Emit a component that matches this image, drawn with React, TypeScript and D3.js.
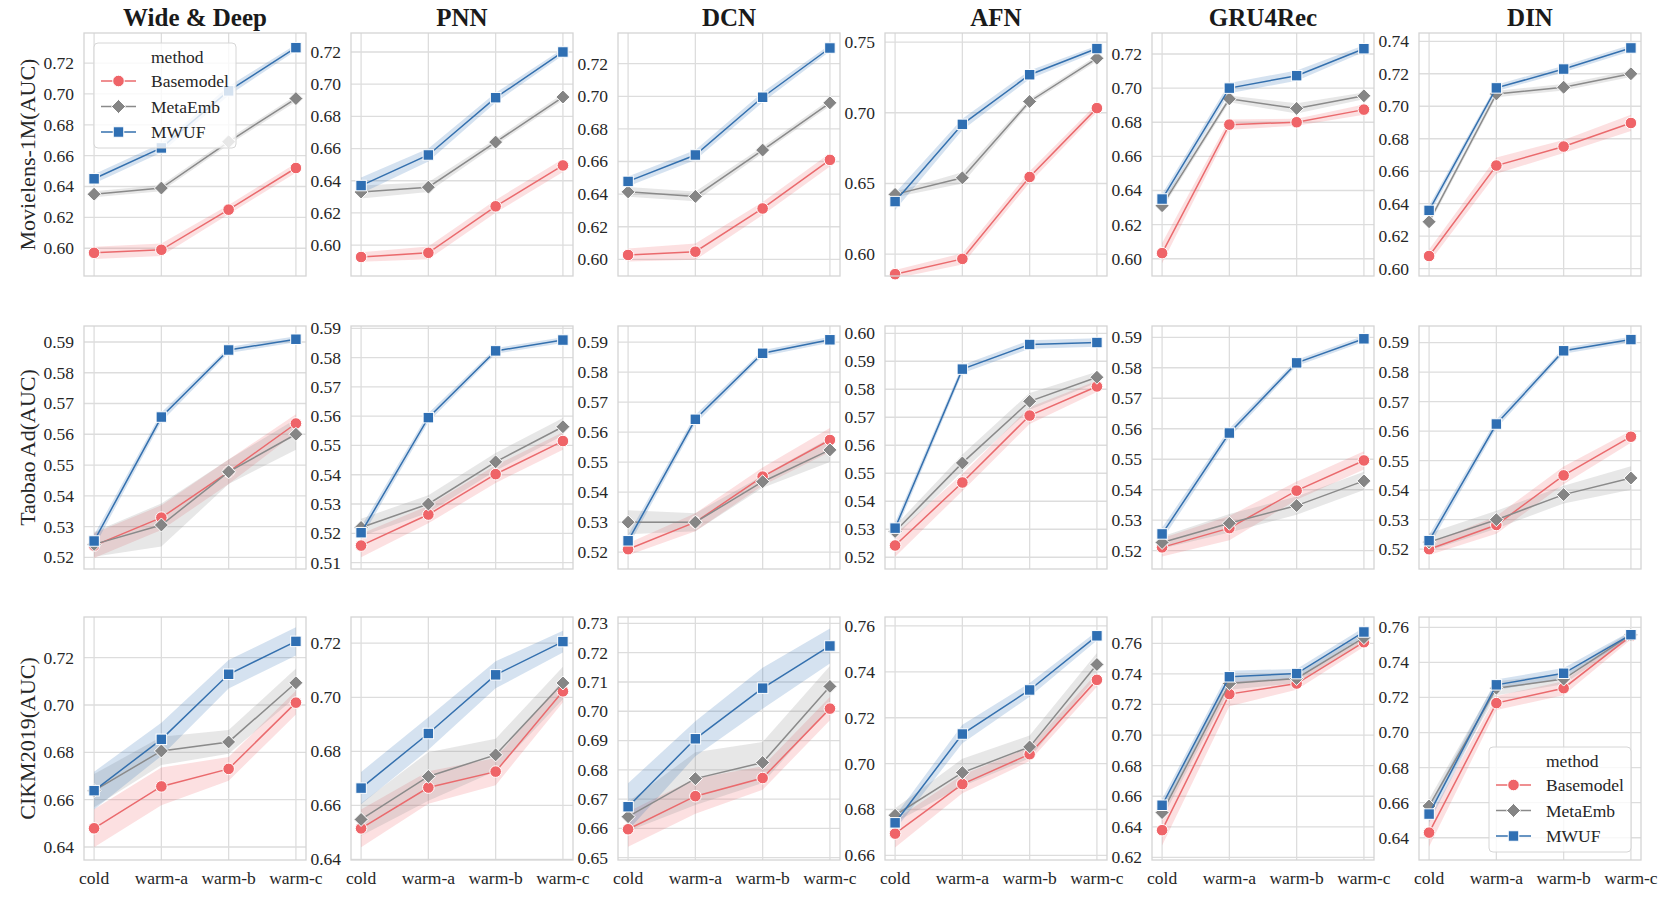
import React from "react";
import * as d3 from "d3";

const methods = ["Basemodel", "MetaEmb", "MWUF"];
const stages = ["cold", "warm-a", "warm-b", "warm-c"];
const models = ["Wide & Deep", "PNN", "DCN", "AFN", "GRU4Rec", "DIN"];
const datasets = ["Movielens-1M(AUC)", "Taobao Ad(AUC)", "CIKM2019(AUC)"];

// Movielens-1M: [model][stage]
const movieBase = [[0.597, 0.599, 0.625, 0.652], [0.5926, 0.5952, 0.6241, 0.6495], [0.6027, 0.6047, 0.6312, 0.661], [0.5859, 0.5967, 0.6546, 0.7033], [0.6033, 0.6786, 0.68, 0.6874], [0.6078, 0.6635, 0.6752, 0.6897]];
const movieBaseCI = [[0.004, 0.004, 0.003, 0.003], [0.003, 0.004, 0.004, 0.004], [0.004, 0.005, 0.004, 0.004], [0.003, 0.004, 0.004, 0.003], [0.006, 0.003, 0.002, 0.003], [0.004, 0.005, 0.004, 0.005]];
const movieMeta = [[0.635, 0.639, 0.669, 0.697], [0.633, 0.636, 0.664, 0.692], [0.6414, 0.6386, 0.667, 0.696], [0.6423, 0.654, 0.708, 0.7385], [0.6311, 0.6937, 0.6881, 0.6955], [0.6289, 0.7076, 0.7117, 0.72]];
const movieMetaCI = [[0.002, 0.002, 0.002, 0.002], [0.004, 0.003, 0.002, 0.002], [0.003, 0.003, 0.002, 0.002], [0.002, 0.004, 0.002, 0.002], [0.002, 0.002, 0.003, 0.002], [0.002, 0.002, 0.002, 0.002]];
const movieMwuf = [[0.645, 0.665, 0.702, 0.73], [0.637, 0.656, 0.6916, 0.72], [0.6478, 0.664, 0.6994, 0.7296], [0.6372, 0.6918, 0.7269, 0.7454], [0.635, 0.7, 0.7073, 0.7231], [0.6359, 0.7113, 0.7229, 0.7359]];
const movieMwufCI = [[0.003, 0.003, 0.003, 0.002], [0.005, 0.004, 0.003, 0.002], [0.003, 0.003, 0.003, 0.002], [0.006, 0.004, 0.003, 0.002], [0.003, 0.003, 0.003, 0.002], [0.003, 0.002, 0.002, 0.002]];

// Taobao Ad
const taoBase = [[0.5238, 0.5329, 0.5478, 0.5635], [0.5158, 0.5264, 0.5402, 0.5515], [0.521, 0.53, 0.5452, 0.5574], [0.5242, 0.5467, 0.5706, 0.581], [0.5211, 0.5274, 0.5397, 0.5496], [0.52, 0.5282, 0.545, 0.5581]];
const taoBaseCI = [[0.004, 0.004, 0.004, 0.003], [0.004, 0.003, 0.003, 0.003], [0.002, 0.003, 0.003, 0.004], [0.004, 0.003, 0.003, 0.002], [0.003, 0.004, 0.003, 0.003], [0.002, 0.003, 0.003, 0.002]];
const taoMeta = [[0.5242, 0.5305, 0.5478, 0.56], [0.522, 0.53, 0.5444, 0.5564], [0.53, 0.53, 0.5435, 0.5541], [0.5292, 0.5537, 0.5757, 0.5843], [0.5227, 0.529, 0.5348, 0.5429], [0.5224, 0.53, 0.5385, 0.5441]];
const taoMetaCI = [[0.004, 0.007, 0.004, 0.005], [0.003, 0.003, 0.003, 0.003], [0.004, 0.003, 0.002, 0.004], [0.002, 0.003, 0.003, 0.002], [0.002, 0.003, 0.003, 0.003], [0.003, 0.003, 0.003, 0.004]];
const taoMwuf = [[0.5253, 0.5656, 0.5874, 0.5909], [0.5202, 0.5595, 0.5823, 0.586], [0.5238, 0.5643, 0.5863, 0.5908], [0.5304, 0.5872, 0.596, 0.5967], [0.5255, 0.5586, 0.5816, 0.5895], [0.5229, 0.5624, 0.5872, 0.591]];
const taoMwufCI = [[0.002, 0.0015, 0.001, 0.001], [0.002, 0.0015, 0.001, 0.001], [0.002, 0.0015, 0.001, 0.001], [0.002, 0.0015, 0.0015, 0.0015], [0.002, 0.0015, 0.001, 0.001], [0.002, 0.0015, 0.001, 0.001]];

// CIKM2019
const cikmBase = [[0.6479, 0.6656, 0.673, 0.701], [0.6515, 0.6666, 0.6725, 0.7022], [0.6597, 0.671, 0.6772, 0.7009], [0.6695, 0.6911, 0.7041, 0.7365], [0.6378, 0.7268, 0.7337, 0.7607], [0.6429, 0.7168, 0.7253, 0.7551]];
const cikmBaseCI = [[0.008, 0.008, 0.005, 0.005], [0.007, 0.006, 0.005, 0.004], [0.006, 0.006, 0.004, 0.004], [0.006, 0.004, 0.003, 0.003], [0.01, 0.008, 0.004, 0.003], [0.008, 0.004, 0.004, 0.002]];
const cikmMeta = [[0.6638, 0.6806, 0.6844, 0.7094], [0.6548, 0.6707, 0.6787, 0.7053], [0.664, 0.677, 0.6825, 0.7085], [0.6775, 0.6961, 0.7073, 0.7432], [0.6493, 0.7337, 0.737, 0.7637], [0.6581, 0.7253, 0.7305, 0.7558]];
const cikmMetaCI = [[0.007, 0.006, 0.005, 0.006], [0.006, 0.009, 0.006, 0.006], [0.005, 0.009, 0.007, 0.007], [0.003, 0.006, 0.005, 0.005], [0.004, 0.004, 0.003, 0.003], [0.004, 0.004, 0.003, 0.002]];
const cikmMwuf = [[0.6638, 0.6855, 0.713, 0.7269], [0.6664, 0.6866, 0.7083, 0.7206], [0.6674, 0.6906, 0.7079, 0.7223], [0.6742, 0.7129, 0.7321, 0.7557], [0.6541, 0.7381, 0.7402, 0.7674], [0.6535, 0.7272, 0.7338, 0.7558]];
const cikmMwufCI = [[0.008, 0.007, 0.006, 0.006], [0.006, 0.006, 0.005, 0.004], [0.008, 0.006, 0.007, 0.006], [0.003, 0.004, 0.003, 0.002], [0.004, 0.004, 0.003, 0.003], [0.005, 0.003, 0.003, 0.002]];

// axis limits and tick steps, [dataset][model]
const yDomains = [
  [[0.582, 0.7395], [0.5808, 0.7318], [0.5898, 0.7388], [0.5846, 0.7564], [0.5899, 0.7323], [0.5955, 0.7451]],
  [[0.5162, 0.5952], [0.5078, 0.5908], [0.5144, 0.5954], [0.5158, 0.6026], [0.514, 0.5937], [0.5133, 0.5956]],
  [[0.6345, 0.7372], [0.6398, 0.7297], [0.6492, 0.7322], [0.658, 0.7639], [0.6183, 0.7772], [0.6273, 0.7659]],
];
const yTickSteps = [
  [0.02, 0.02, 0.02, 0.05, 0.02, 0.02],
  [0.01, 0.01, 0.01, 0.01, 0.01, 0.01],
  [0.02, 0.02, 0.01, 0.02, 0.02, 0.02],
];

const means = [[movieBase, movieMeta, movieMwuf], [taoBase, taoMeta, taoMwuf], [cikmBase, cikmMeta, cikmMwuf]];
const cis = [[movieBaseCI, movieMetaCI, movieMwufCI], [taoBaseCI, taoMetaCI, taoMwufCI], [cikmBaseCI, cikmMetaCI, cikmMwufCI]];

const colors = ["#ef6468", "#858585", "#2f6fb3"];
const lineColors = ["#ea6a6d", "#8a8a8a", "#3470ae"];
const FONT = "'Liberation Serif', 'Times New Roman', serif";

const W = 1668, H = 898;
const colLeft0 = 84, colStep = 267, panelW = 222;
const rowTops = [33, 326, 617];
const panelH = 243;

function Marker({ kind, x, y, color }: { kind: number; x: number; y: number; color: string }) {
  if (kind === 0) return <circle cx={x} cy={y} r={5.8} fill={color} stroke="#fff" strokeWidth={1} />;
  if (kind === 1) {
    const r = 7;
    return <path d={`M${x},${y - r}L${x + r},${y}L${x},${y + r}L${x - r},${y}Z`} fill={color} stroke="#fff" strokeWidth={1} />;
  }
  const s = 10.5;
  return <rect x={x - s / 2} y={y - s / 2} width={s} height={s} fill={color} stroke="#fff" strokeWidth={1} />;
}

function Legend({ x, y }: { x: number; y: number }) {
  return (
    <g transform={`translate(${x},${y})`}>
      <rect x={0} y={0} width={142} height={105} rx={4} fill="#fff" fillOpacity={0.8} stroke="#d6d6d6" strokeWidth={1} />
      <text x={57} y={20} fontSize={17.5} fontFamily={FONT} fill="#262626">method</text>
      {methods.map((m, i) => {
        const yy = 38 + i * 25.5;
        return (
          <g key={m}>
            <line x1={7} x2={42} y1={yy} y2={yy} stroke={lineColors[i]} strokeWidth={1.5} />
            <Marker kind={i} x={24.5} y={yy} color={colors[i]} />
            <text x={57} y={yy + 6} fontSize={17.5} fontFamily={FONT} fill="#262626">{m}</text>
          </g>
        );
      })}
    </g>
  );
}

function Panel({ r, c }: { r: number; c: number }) {
  const left = colLeft0 + c * colStep;
  const top = rowTops[r];
  const x = d3.scalePoint<string>().domain(stages).range([left + panelW * 0.15 / 3.3, left + panelW - panelW * 0.15 / 3.3]);
  const y = d3.scaleLinear().domain(yDomains[r][c]).range([top + panelH, top]);
  const step = yTickSteps[r][c];
  const [d0, d1] = yDomains[r][c];
  const ticks = d3.range(Math.ceil(d0 / step - 1e-6), Math.floor(d1 / step + 1e-6) + 1).map((k) => k * step);
  const fmt = d3.format(".2f");

  const line = d3.line<number>().x((_, i) => x(stages[i])!).y((v) => y(v));
  const area = d3
    .area<[number, number]>()
    .x((_, i) => x(stages[i])!)
    .y0((d) => y(d[0] - d[1]))
    .y1((d) => y(d[0] + d[1]));

  return (
    <g>
      <clipPath id={`clip-${r}-${c}`}>
        <rect x={left} y={top} width={panelW} height={panelH} />
      </clipPath>
      {ticks.map((t) => (
        <line key={"gy" + t} x1={left} x2={left + panelW} y1={y(t)} y2={y(t)} stroke="#dddddd" strokeWidth={1.3} />
      ))}
      {stages.map((s) => (
        <line key={"gx" + s} x1={x(s)} x2={x(s)} y1={top} y2={top + panelH} stroke="#dddddd" strokeWidth={1.3} />
      ))}
      <g clipPath={`url(#clip-${r}-${c})`}>
        {methods.map((m, mi) => {
          const pts = means[r][mi][c].map((v, i) => [v, cis[r][mi][c][i]] as [number, number]);
          return <path key={"band" + m} d={area(pts) || ""} fill={colors[mi]} fillOpacity={0.2} stroke="none" />;
        })}
      </g>
      {methods.map((m, mi) => (
        <g key={"ser" + m}>
          <path d={line(means[r][mi][c]) || ""} fill="none" stroke={lineColors[mi]} strokeWidth={1.5} />
          {means[r][mi][c].map((v, i) => (
            <Marker key={i} kind={mi} x={x(stages[i])!} y={y(v)} color={colors[mi]} />
          ))}
        </g>
      ))}
      <rect x={left} y={top} width={panelW} height={panelH} fill="none" stroke="#d4d4d4" strokeWidth={1.3} />
      {ticks.map((t) => (
        <text key={"ty" + t} x={left - 10} y={y(t)} dy="0.34em" textAnchor="end" fontSize={17.5} fontFamily={FONT} fill="#262626">
          {fmt(t)}
        </text>
      ))}
      {r === 2 &&
        stages.map((s) => (
          <text key={"tx" + s} x={x(s)} y={top + panelH + 24} textAnchor="middle" fontSize={17.5} fontFamily={FONT} fill="#262626">
            {s}
          </text>
        ))}
      {r === 0 && (
        <text x={left + panelW / 2} y={26} textAnchor="middle" fontSize={25} fontWeight="bold" fontFamily={FONT} fill="#1a1a1a">
          {models[c]}
        </text>
      )}
      {c === 0 && (
        <text transform={`translate(35,${top + panelH / 2}) rotate(-90)`} textAnchor="middle" fontSize={22} fontFamily={FONT} fill="#262626">
          {datasets[r]}
        </text>
      )}
    </g>
  );
}

export default function App() {
  return (
    <svg width={W} height={H} viewBox={`0 0 ${W} ${H}`} style={{ position: "absolute", left: 0, top: 0, background: "#fff", display: "block" }}>
      <rect x={0} y={0} width={W} height={H} fill="#fff" />
      {datasets.map((_, r) => models.map((_, c) => <Panel key={`${r}-${c}`} r={r} c={c} />))}
      <Legend x={colLeft0 + 10} y={rowTops[0] + 10} />
      <Legend x={colLeft0 + 5 * colStep + panelW - 10 - 142} y={rowTops[2] + panelH - 8 - 105} />
    </svg>
  );
}
